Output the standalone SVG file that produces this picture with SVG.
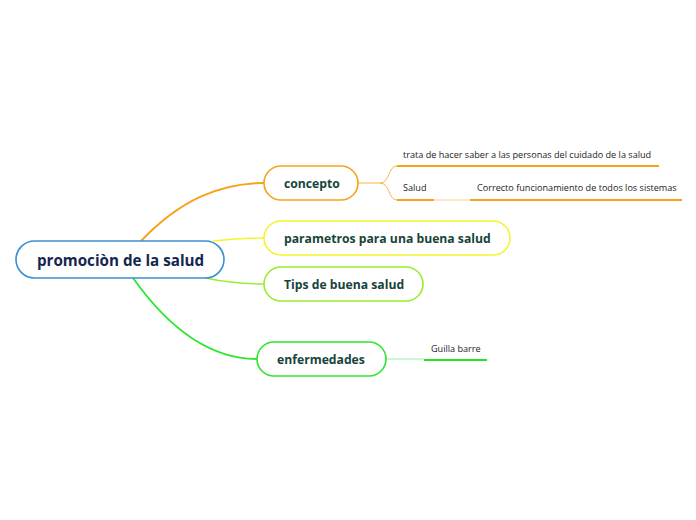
<svg xmlns="http://www.w3.org/2000/svg" width="696" height="520" viewBox="0 0 696 520">
<style>
.node{fill:#ffffff;stroke-width:1.6}
.t{font-family:"Open Sans","Noto Sans","DejaVu Sans",sans-serif;font-weight:bold;font-size:12.2px;fill:#17443a}
.s{font-family:"Open Sans","Noto Sans","DejaVu Sans",sans-serif;font-size:9.1px;fill:#222222}
.c{fill:none}
</style>
<rect width="696" height="520" fill="#ffffff"/>
<g id="connectors">
<path class="c" d="M141,241 C180,200 220,183 264,183" stroke="#f7a21b" stroke-width="2"/>
<path class="c" d="M213,241 C230,239 245,238 264,238" stroke="#f3f52a" stroke-width="1.4"/>
<path class="c" d="M205,278 C225,282 245,284 264,284" stroke="#97ee2c" stroke-width="1.4"/>
<path class="c" d="M133,278 C170,330 210,359 257,359" stroke="#2ee62e" stroke-width="1.8"/>
<path class="c" d="M358,183 L380,183 C390,183 388,166 397,166 M380,183 C390,183 388,200 397,200" stroke="#f7b347" stroke-width="1"/>
<path class="c" d="M434,200 L470,200" stroke="#f9c77a" stroke-width="0.8"/>
<path class="c" d="M386,359 L424,359" stroke="#9af29a" stroke-width="1.2"/>
</g>
<g id="root">
<rect class="node" x="16" y="241" width="208" height="37" rx="18.5" stroke="#3a8fd4"/>
<text x="120.5" y="266" text-anchor="middle" style="font-family:'Open Sans','Noto Sans','DejaVu Sans',sans-serif;font-weight:bold;font-size:15.2px;fill:#14264f">promociòn de la salud</text>
</g>
<g id="concepto">
<rect class="node" x="264" y="166" width="94" height="34" rx="17" stroke="#f7a21b"/>
<text class="t" x="284" y="188">concepto</text>
</g>
<g id="parametros">
<rect class="node" x="264" y="221" width="246" height="34" rx="17" stroke="#f3f52a"/>
<text class="t" x="284" y="243">parametros para una buena salud</text>
</g>
<g id="tips">
<rect class="node" x="264" y="267" width="159" height="34" rx="17" stroke="#97ee2c"/>
<text class="t" x="284" y="289">Tips de buena salud</text>
</g>
<g id="enfermedades">
<rect class="node" x="257" y="342" width="129" height="34" rx="17" stroke="#2ee62e"/>
<text class="t" x="277" y="364">enfermedades</text>
</g>
<g id="trata">
<line x1="397" y1="166" x2="659" y2="166" stroke="#f7a21b" stroke-width="2"/>
<text class="s" x="403" y="158">trata de hacer saber a las personas del cuidado de la salud</text>
</g>
<g id="salud">
<line x1="397" y1="200" x2="434" y2="200" stroke="#f7a21b" stroke-width="2"/>
<text class="s" x="403" y="191">Salud</text>
</g>
<g id="correcto">
<line x1="470" y1="200" x2="682" y2="200" stroke="#f7a21b" stroke-width="2"/>
<text class="s" x="477" y="191">Correcto funcionamiento de todos los sistemas</text>
</g>
<g id="guilla">
<line x1="424" y1="360" x2="487" y2="360" stroke="#22e622" stroke-width="2"/>
<text class="s" x="431" y="352">Guilla barre</text>
</g>
</svg>
